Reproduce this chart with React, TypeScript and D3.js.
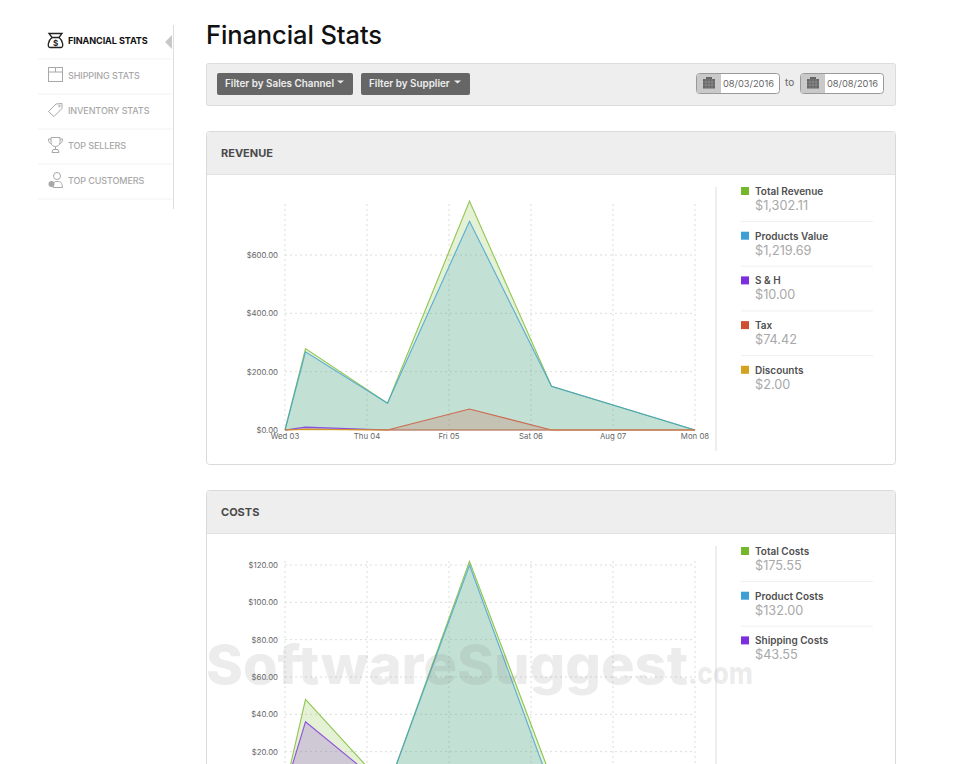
import React from "react";
import * as d3 from "d3";

const FONT = "Inter, 'Noto Sans', sans-serif";

// Data
const sampleTimes = ["2016-08-03T00:00", "2016-08-03T06:00", "2016-08-04T06:00", "2016-08-05T06:00", "2016-08-06T06:00", "2016-08-08T00:00"];
const tickTimes = ["2016-08-03T00:00", "2016-08-04T00:00", "2016-08-05T00:00", "2016-08-06T00:00", "2016-08-07T00:00", "2016-08-08T00:00"];
const tickLabels = ["Wed 03", "Thu 04", "Fri 05", "Sat 06", "Aug 07", "Mon 08"];

const totalRevenue = [0, 279, 92, 785, 150, 0];
const productsValue = [0, 268, 92, 716, 150, 0];
const shAndH = [0, 10, 0, 0, 0, 0];
const tax = [0, 2.42, 0, 72, 0, 0];
const discounts = [0, 2, 0, 0, 0, 0];

const totalCosts = [0, 48, 0, 122, 5.55, 0];
const productCosts = [0, 12, 0, 120, 0, 0];
const shippingCosts = [0, 36, 0, 2, 5.55, 0];

const revenueTicks = [0, 200, 400, 600];
const costTicks = [0, 20, 40, 60, 80, 100, 120];

const revenueLegend = [
  { name: "Total Revenue", value: "$1,302.11", color: "#77b82a", data: totalRevenue },
  { name: "Products Value", value: "$1,219.69", color: "#3b9fd6", data: productsValue },
  { name: "S & H", value: "$10.00", color: "#7d2fe0", data: shAndH },
  { name: "Tax", value: "$74.42", color: "#cf4f33", data: tax },
  { name: "Discounts", value: "$2.00", color: "#d4a21c", data: discounts },
];
const costLegend = [
  { name: "Total Costs", value: "$175.55", color: "#77b82a", data: totalCosts },
  { name: "Product Costs", value: "$132.00", color: "#3b9fd6", data: productCosts },
  { name: "Shipping Costs", value: "$43.55", color: "#7d2fe0", data: shippingCosts },
];
const navItems = ["FINANCIAL STATS", "SHIPPING STATS", "INVENTORY STATS", "TOP SELLERS", "TOP CUSTOMERS"];

const PAGE_HEIGHT = 764;
const x = d3.scaleTime().domain([new Date(tickTimes[0]), new Date(tickTimes[5])]).range([285, 695]);
const dates = sampleTimes.map((t) => new Date(t));

function Icon({ i, y, color }: { i: number; y: number; color: string }) {
  const p = { fill: "none", stroke: color, strokeWidth: 1 };
  const t = `translate(48,${y - 8})`;
  if (i === 0)
    return (
      <g transform={t} {...p} strokeWidth={1.3}>
        <path d="M1 1 H14 L11 5 H4 Z" />
        <path d="M4 5 C0 8 -1 15 2 15 H13 C16 15 15 8 11 5" />
        <text x={7.5} y={13} fontSize={8} fontWeight={700} textAnchor="middle" fill={color} stroke="none" fontFamily={FONT}>$</text>
      </g>
    );
  if (i === 1)
    return (
      <g transform={t} {...p}>
        <rect x={0.5} y={0} width={14} height={14} />
        <path d="M0.5 4.5 H14.5 M7.5 0 V4.5" />
      </g>
    );
  if (i === 2)
    return (
      <g transform={t} {...p}>
        <path d="M0.5 9 L8 1.5 L14 1 L14 6 L6 14 Z" />
        <circle cx={11.5} cy={3.5} r={0.8} />
      </g>
    );
  if (i === 3)
    return (
      <g transform={t} {...p}>
        <path d="M3 0 H12 V5 C12 8 9 9 7.5 9 C6 9 3 8 3 5 Z" />
        <path d="M3 1.5 H0.5 C0.5 5 2 6 3.5 6.5 M12 1.5 H14.5 C14.5 5 13 6 11.5 6.5" />
        <path d="M7.5 9 V12 M4 15 L5 12 H10 L11 15 Z" />
      </g>
    );
  return (
    <g transform={t} {...p}>
      <circle cx={9} cy={3.5} r={3.5} />
      <path d="M5 15 C5 10 6 9 9 9 C13 9 14 10 14.5 15 Z" />
      <circle cx={3.5} cy={11.5} r={3} fill={color} stroke="none" />
    </g>
  );
}

function Panel({ title, top, height, bottomVisible, legend, ticks, y0, pxMax, vMax, gridTop, legendTop }: any) {
  const y = d3.scaleLinear().domain([0, vMax]).range([y0, pxMax]);
  const area = d3.area<number>().x((_, i) => x(dates[i])).y0(y0).y1((d) => y(d));
  const line = d3.line<number>().x((_, i) => x(dates[i])).y((d) => y(d));
  const gridColor = "#dcdcdc";
  return (
    <g fontFamily={FONT}>
      <rect x={206.5} y={top + 0.5} width={689} height={height} rx={3} fill="#fff" stroke="#dadada" />
      <path d={`M207 ${top + 43} V${top + 4} Q207 ${top + 1} 210 ${top + 1} H892 Q895 ${top + 1} 895 ${top + 4} V${top + 43} Z`} fill="#eeeeee" />
      <line x1={207} x2={895} y1={top + 43.5} y2={top + 43.5} stroke="#e2e2e2" />
      <text x={221} y={top + 26} fontSize={11} fontWeight={700} fill="#4a4a4a">{title}</text>
      {tickTimes.map((t, i) => (
        <g key={t}>
          <line x1={x(new Date(t))} x2={x(new Date(t))} y1={gridTop} y2={y0} stroke={gridColor} strokeDasharray="2 3" />
          {y0 + 9 < PAGE_HEIGHT && (
            <text x={x(new Date(t))} y={y0 + 9} fontSize={7.8} fill="#666" textAnchor="middle">{tickLabels[i]}</text>
          )}
        </g>
      ))}
      {ticks.filter((v: number) => y(v) < PAGE_HEIGHT).map((v: number) => (
        <g key={v}>
          {v > 0 && <line x1={285} x2={695} y1={y(v)} y2={y(v)} stroke={gridColor} strokeDasharray="2 3" />}
          <text x={278} y={y(v) + 3} fontSize={7.8} fill="#666" textAnchor="end">{d3.format("$,.2f")(v)}</text>
        </g>
      ))}
      {legend.map((s: any) => (
        <g key={s.name}>
          <path d={area(s.data) ?? ""} fill={s.color} fillOpacity={0.2} />
          <path d={line(s.data) ?? ""} fill="none" stroke={s.color} strokeOpacity={0.8} strokeWidth={1.1} />
        </g>
      ))}
      <line x1={716} x2={716} y1={top + 56} y2={bottomVisible} stroke="#dddddd" />
      {legend.map((s: any, i: number) => {
        const ly = legendTop + i * 44.7;
        return (
          <g key={s.name}>
            <rect x={741} y={ly} width={8} height={8} fill={s.color} />
            <text x={755} y={ly + 8} fontSize={10} fontWeight={600} fill="#4f4f4f">{s.name}</text>
            <text x={755} y={ly + 23} fontSize={12.7} fill="#a8a8a8">{s.value}</text>
            {i < legend.length - 1 && <line x1={741} x2={873} y1={ly + 34.5} y2={ly + 34.5} stroke="#f0f0f0" />}
          </g>
        );
      })}
    </g>
  );
}

function DateBox({ left, label }: { left: number; label: string }) {
  return (
    <g>
      <rect x={left + 0.5} y={73.5} width={83} height={20} rx={3} fill="#fff" stroke="#999" />
      <path d={`M${left + 1} 74 H${left + 25} V93 H${left + 1} Z`} fill="#c9c9c9" />
      <rect x={left + 7} y={79} width={12} height={9.5} fill="#666" />
      <rect x={left + 10} y={77} width={6} height={2} fill="#666" />
      <path d={`M${left + 7} 82 h12 M${left + 7} 85 h12 M${left + 10} 79 v9 M${left + 13} 79 v9 M${left + 16} 79 v9`} stroke="#9a9a9a" strokeWidth={0.6} />
      <text x={left + 27} y={86.5} fontSize={9.3} fill="#666">{label}</text>
    </g>
  );
}

function Button({ left, w, label }: { left: number; w: number; label: string }) {
  return (
    <g>
      <rect x={left} y={73} width={w} height={22} rx={2} fill="#666666" />
      <text x={left + 8} y={87.3} fontSize={9.9} fontWeight={600} fill="#eeeeee">{label}</text>
      <path d={`M${left + w - 16} 80.5 h7 l-3.5 3 Z`} fill="#eee" />
    </g>
  );
}

export default function App() {
  return (
    <svg width={960} height={764} viewBox="0 0 960 764" style={{ position: "fixed", left: 0, top: 0, background: "#fff" }} fontFamily={FONT}>
      {navItems.map((n, i) => {
        const cy = 40.5 + i * 35;
        const col = i === 0 ? "#111" : "#a8a8a8";
        return (
          <g key={n}>
            <Icon i={i} y={cy} color={i === 0 ? "#222" : "#a8a8a8"} />
            <text x={68} y={cy + 3.5} fontSize={i === 0 ? 9.1 : 9} fontWeight={i === 0 ? 700 : 500} fill={col} letterSpacing={-0.1}>{n}</text>
            <line x1={38} x2={172} y1={cy + 18.5} y2={cy + 18.5} stroke="#f2f2f2" />
          </g>
        );
      })}
      <line x1={173.5} x2={173.5} y1={25} y2={209} stroke="#dddddd" />
      <path d="M172 35 V49 L165 42 Z" fill="#c8c8c8" />

      <text x={206} y={44} fontSize={25.5} fontWeight={500} fill="#111" letterSpacing={-0.1}>Financial Stats</text>

      <rect x={206.5} y={63.5} width={689} height={42} rx={2} fill="#eeeeee" stroke="#dcdcdc" />
      <Button left={217} w={136} label="Filter by Sales Channel" />
      <Button left={361} w={109} label="Filter by Supplier" />
      <DateBox left={696} label="08/03/2016" />
      <text x={785} y={86} fontSize={10} fill="#666">to</text>
      <DateBox left={800} label="08/08/2016" />

      <Panel title="REVENUE" top={131} height={333} bottomVisible={451} legend={revenueLegend} ticks={revenueTicks} y0={430} pxMax={255} vMax={600} gridTop={204} legendTop={187} />
      <Panel title="COSTS" top={490} height={320} bottomVisible={764} legend={costLegend} ticks={costTicks} y0={789} pxMax={565} vMax={120} gridTop={561} legendTop={547} />

      <text x={206} y={684} fontSize={54} fontWeight={800} fontFamily="Inter, sans-serif" fill="#888" fillOpacity={0.16} textLength={482} lengthAdjust="spacingAndGlyphs">SoftwareSuggest</text>
      <text x={688} y={684} fontSize={30} fontWeight={800} fontFamily="Inter, sans-serif" fill="#888" fillOpacity={0.16} textLength={65} lengthAdjust="spacingAndGlyphs">.com</text>
    </svg>
  );
}
